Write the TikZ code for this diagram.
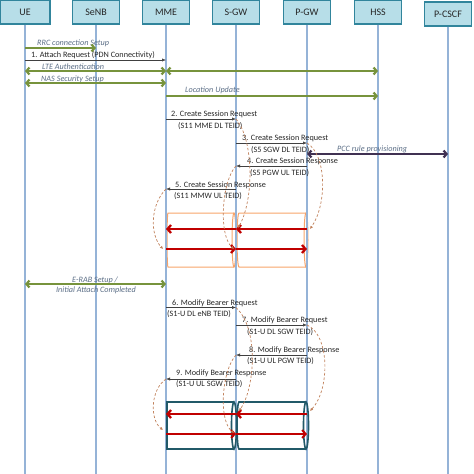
\documentclass[tikz,border=0pt]{standalone}
\usepackage{fontspec}
\setmainfont{Carlito}
\usetikzlibrary{arrows.meta}
\definecolor{hdrfill}{HTML}{B7DEE8}
\definecolor{hdrdraw}{HTML}{31859C}
\definecolor{lifec}{HTML}{95B3D7}
\definecolor{grn}{HTML}{77933C}
\definecolor{rd}{HTML}{C00000}
\definecolor{purp}{HTML}{403152}
\definecolor{msgc}{HTML}{404040}
\definecolor{txtc}{HTML}{262626}
\definecolor{italc}{HTML}{5B6E86}
\definecolor{dshc}{HTML}{C0805A}
\definecolor{orng}{HTML}{F7A46A}
\definecolor{tealc}{HTML}{215968}
\begin{document}
\begin{tikzpicture}[x=1pt,y=-1pt,
  hdr/.style={draw=hdrdraw,fill=hdrfill,line width=1.2pt,minimum width=47pt,minimum height=24pt,inner sep=0pt,font=\fontsize{10}{12}\selectfont,text=txtc},
  life/.style={draw=lifec,line width=1.1pt},
  msg/.style={draw=msgc,line width=0.6pt,-{Latex[length=4pt,width=3.2pt]}},
  mlbl/.style={anchor=base west,inner sep=0pt,font=\fontsize{8.2}{10}\selectfont,text=txtc},
  ilbl/.style={anchor=base west,inner sep=0pt,font=\fontsize{8.2}{10}\selectfont\itshape,text=italc},
  iclbl/.style={anchor=base,inner sep=0pt,font=\fontsize{8.2}{10}\selectfont\itshape,text=italc},
  garrow/.style={draw=grn,line width=2.2pt,-{Straight Barb[length=3pt,width=7pt]}},
  gdouble/.style={draw=grn,line width=2.2pt,{Straight Barb[length=3pt,width=7pt]}-{Straight Barb[length=3pt,width=7pt]}},
  pdouble/.style={draw=purp,line width=2.2pt,{Straight Barb[length=3pt,width=7pt]}-{Straight Barb[length=3pt,width=7pt]}},
  rarrow/.style={draw=rd,line width=2.3pt,-{Straight Barb[length=3.5pt,width=8pt]}},
  dcurve/.style={draw=dshc,line width=0.7pt,dash pattern=on 2.5pt off 2pt,-{Latex[length=3pt,width=3pt]}},
  otun/.style={draw=orng,line width=1pt},
  ttun/.style={draw=tealc,line width=1.6pt},
]
\useasboundingbox (0,0) rectangle (474,474);
% headers
\node[hdr,minimum width=50pt] (ue) at (25,12) {UE};
\node[hdr] (senb) at (96,12) {SeNB};
\node[hdr] (mme) at (166,12) {MME};
\node[hdr] (sgw) at (236,12) {S-GW};
\node[hdr] (pgw) at (307,12) {P-GW};
\node[hdr] (hss) at (378,12) {HSS};
\node[hdr] (pcscf) at (448,14) {P-CSCF};
% tunnels (orange)
\draw[otun] (306,213) -- (239,213) arc[start angle=90,end angle=270,x radius=2pt,y radius=27pt] -- (306,267);
\draw[otun] (306,240) ellipse [x radius=2pt, y radius=27pt];
\draw[otun] (234,213) -- (168,213) arc[start angle=90,end angle=270,x radius=1pt,y radius=27pt] -- (234,267);
\draw[otun] (234,240) ellipse [x radius=2pt, y radius=27pt];
% lifelines
\draw[life] (ue.south) -- (ue |- 0,474);
\draw[life] (senb.south) -- (senb |- 0,474);
\draw[life] (mme.south) -- (mme |- 0,474);
\draw[life] (sgw.south) -- (sgw |- 0,474);
\draw[life] (pgw.south) -- (pgw |- 0,474);
\draw[life] (hss.south) -- (hss |- 0,474);
\draw[life] (pcscf.south) -- (pcscf |- 0,474);
% tunnels (teal)
\draw[ttun] (234,402) -- (167,402) -- (167,449) -- (234,449);
\draw[ttun] (234,425.5) ellipse [x radius=2.5pt, y radius=23.5pt];
\draw[ttun] (306,402) -- (239,402) arc[start angle=90,end angle=270,x radius=2pt,y radius=23.5pt] -- (306,449);
\draw[ttun] (306,425.5) ellipse [x radius=2.5pt, y radius=23.5pt];
% green / purple exchanges
\node[ilbl] (lrrc) at (37,45.5) {RRC connection Setup};
\draw[garrow] (ue |- 0,48) -- (senb |- 0,48);
\node[mlbl] (l1) at (31,57) {1. Attach Request (PDN Connectivity)};
\draw[msg] (ue |- 0,60) -- (mme |- 0,60);
\node[ilbl] (llte) at (42,69) {LTE Authentication};
\draw[gdouble] (ue |- 0,71) -- (mme |- 0,71);
\draw[gdouble] (mme |- 0,71) -- (hss |- 0,71);
\node[ilbl] (lnas) at (41,81) {NAS Security Setup};
\draw[gdouble] (ue |- 0,83) -- (mme |- 0,83);
\node[ilbl] (lloc) at (185,92) {Location Update};
\draw[garrow] (mme |- 0,96) -- (hss |- 0,96);
% create session
\node[mlbl] (l2) at (171,116.5) {2. Create Session Request};
\node[mlbl] (l2b) at (178,128.5) {(S11 MME DL TEID)};
\draw[msg] (mme |- 0,119) -- (sgw |- 0,119);
\node[mlbl] (l3) at (242,140) {3. Create Session Request};
\node[mlbl] (l3b) at (251,152) {(S5 SGW DL TEID)};
\draw[msg] (sgw |- 0,143) -- (pgw |- 0,143);
\node[ilbl] (lpcc) at (337,151) {PCC rule provisioning};
\draw[pdouble] (pgw |- 0,154) -- (pcscf |- 0,154);
\node[mlbl] (l4) at (247,163) {4. Create Session Response};
\node[mlbl] (l4b) at (250,175) {(S5 PGW UL TEID)};
\draw[msg] (pgw |- 0,166) -- (sgw |- 0,166);
\node[mlbl] (l5) at (175,187) {5. Create Session Response};
\node[mlbl] (l5b) at (174,198.5) {(S11 MMW UL TEID)};
\draw[msg] (sgw |- 0,189) -- (mme |- 0,189);
% red bearer arrows (orange tunnel)
\draw[rarrow] (pgw |- 0,229) -- (sgw |- 0,229);
\draw[rarrow] (sgw |- 0,229) -- (mme |- 0,229);
\draw[rarrow] (mme |- 0,249) -- (sgw |- 0,249);
\draw[rarrow] (sgw |- 0,249) -- (pgw |- 0,249);
% dashed links (first group)
\draw[dcurve] (mme |- 0,189) .. controls (150,205) and (150,235) .. (163,249);
\draw[dcurve] (sgw |- 0,166) .. controls (222,180) and (218,235) .. (234,249);
\draw[dcurve] (sgw |- 0,119) .. controls (254,140) and (254,200) .. (238,228);
\draw[dcurve] (pgw |- 0,143) .. controls (327,155) and (327,205) .. (310,229);
% E-RAB
\node[iclbl] (lerab) at (95,282) {E-RAB Setup /};
\draw[gdouble] (ue |- 0,284) -- (mme |- 0,284);
\node[iclbl] (lerab2) at (96,292) {Initial Attach Completed};
% modify bearer
\node[mlbl] (l6) at (172,305) {6. Modify Bearer Request};
\node[mlbl] (l6b) at (167,316.5) {(S1-U DL eNB TEID)};
\draw[msg] (mme |- 0,307.5) -- (sgw |- 0,307.5);
\node[mlbl] (l7) at (242,322.7) {7. Modify Bearer Request};
\node[mlbl] (l7b) at (247,334) {(S1-U DL SGW TEID)};
\draw[msg] (sgw |- 0,325) -- (pgw |- 0,325);
\node[mlbl] (l8) at (249,352) {8. Modify Bearer Response};
\node[mlbl] (l8b) at (247,363.5) {(S1-U UL PGW TEID)};
\draw[msg] (pgw |- 0,355) -- (sgw |- 0,355);
\node[mlbl] (l9) at (176,375.7) {9. Modify Bearer Response};
\node[mlbl] (l9b) at (176,386.5) {(S1-U UL SGW TEID)};
\draw[msg] (sgw |- 0,379) -- (mme |- 0,379);
% red bearer arrows (teal tunnel)
\draw[rarrow] (pgw |- 0,414) -- (sgw |- 0,414);
\draw[rarrow] (sgw |- 0,414) -- (mme |- 0,414);
\draw[rarrow,line width=2pt] (mme |- 0,434) -- (sgw |- 0,434);
\draw[rarrow,line width=2pt] (sgw |- 0,434) -- (pgw |- 0,434);
% dashed links (second group)
\draw[dcurve] (mme |- 0,379) .. controls (150,390) and (150,420) .. (163,430);
\draw[dcurve] (sgw |- 0,355) .. controls (222,370) and (218,420) .. (234,433);
\draw[dcurve] (sgw |- 0,307.5) .. controls (260,330) and (254,390) .. (239,411);
\draw[dcurve] (pgw |- 0,325) .. controls (330,335) and (330,390) .. (310,411);
\end{tikzpicture}
\end{document}
